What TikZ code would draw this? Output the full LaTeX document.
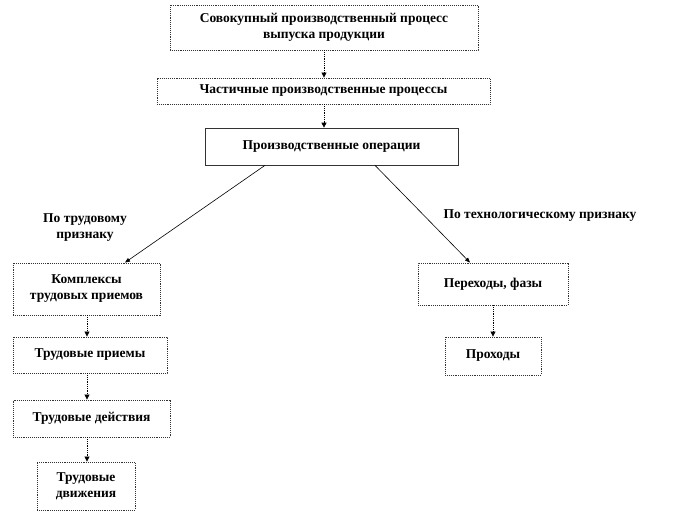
\documentclass[tikz,border=0pt]{standalone}
\usepackage{fontspec}
\setmainfont{Liberation Serif}
\usetikzlibrary{arrows.meta}
\begin{document}
\begin{tikzpicture}[x=1pt,y=-1pt,
 bx/.style={draw=black!80,densely dotted,line width=0.9pt,fill=white,font=\bfseries\fontsize{13.5}{16}\selectfont,align=center,inner sep=0pt},
 ar/.style={densely dotted,line width=0.8pt,-{Triangle[width=5pt,length=5pt]}},
 sar/.style={line width=0.6pt,-{Triangle[width=4pt,length=5pt]}},
 lb/.style={font=\bfseries\fontsize{13.5}{16}\selectfont,align=center}]
\useasboundingbox (0,0) rectangle (688,516);
\node[bx,minimum width=308,minimum height=45] (a) at (324,27.5) {Совокупный производственный процесс\\выпуска продукции};
\node[bx,minimum width=333,minimum height=26] (b) at (323.5,91) {Частичные производственные процессы};
\node[bx,solid,line width=0.7pt,minimum width=253,minimum height=37] (c) at (331.5,146.5) {Производственные операции};
\node[bx,minimum width=147,minimum height=52] (d) at (86.5,289) {Комплексы\\трудовых приемов};
\node[bx,minimum width=154,minimum height=36] (e) at (90,355) {Трудовые приемы};
\node[bx,minimum width=157,minimum height=37] (f) at (91.5,418.5) {Трудовые действия};
\node[bx,minimum width=98,minimum height=48] (g) at (86,486) {Трудовые\\движения};
\node[bx,minimum width=150,minimum height=42] (h) at (493,284) {Переходы, фазы};
\node[bx,minimum width=96,minimum height=38] (i) at (493,356) {Проходы};
\node[lb] (l1) at (85,228) {По трудовому\\признаку};
\node[lb] (l2) at (540,216) {По технологическому признаку};
\draw[ar] (a.south -| 324,0) -- (b.north -| 324,0);
\draw[ar] (b.south -| 324,0) -- (c.north -| 324,0);
\draw[sar] (c.south -| 265,0) -- (d.north -| 125,0);
\draw[sar] (c.south -| 375,0) -- (h.north -| 470,0);
\draw[ar] (d.south -| 87,0) -- (e.north -| 87,0);
\draw[ar] (e.south -| 87,0) -- (f.north -| 87,0);
\draw[ar] (f.south -| 87,0) -- (g.north -| 87,0);
\draw[ar] (h.south) -- (i.north);
\end{tikzpicture}
\end{document}
